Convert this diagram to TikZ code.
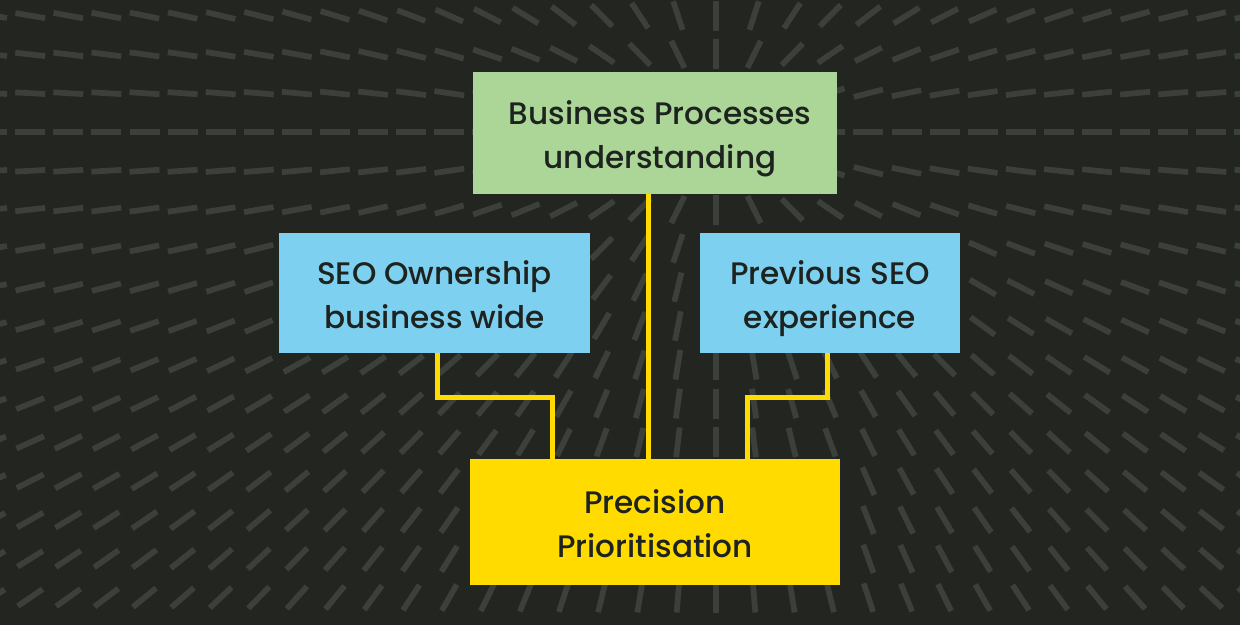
\documentclass[tikz,border=0pt]{standalone}
\usepackage{fontspec}
\setmainfont{Poppins}[UprightFont=* Medium]
\usepackage{tikz}
\usetikzlibrary{positioning}

\definecolor{bgdark}{HTML}{222520}
\definecolor{raygrey}{HTML}{3C403B}
\definecolor{boxgreen}{HTML}{ABD698}
\definecolor{boxblue}{HTML}{7DD0EF}
\definecolor{boxyellow}{HTML}{FFDB00}
\definecolor{inkdark}{HTML}{1E231F}

\newcommand\linestrut{\rule[-4.8pt]{0pt}{25pt}}

\begin{document}
\begin{tikzpicture}[
                    x=0.02cm, y=-0.02cm,
                    box/.style = {rectangle, inner sep=0pt, align=center, text=inkdark,
                                  font=\fontsize{17.7}{25}\selectfont},
                    ray/.style = {draw=raygrey, line width=0.115cm},
                    link/.style = {draw=boxyellow, line width=0.1cm, line join=miter}
                ]
                    \useasboundingbox (0,0) rectangle (1240,625);
                    \fill[bgdark] (0,0) rectangle (1240,625);

                    % background rays around the centre
                    \begin{scope}
                    \clip (0,0) rectangle (1240,625);
                    \foreach \i in {-19,...,14}{
                        \foreach \j in {-3,...,12}{
                            \pgfmathsetmacro\px{716+38.1*\i}
                            \pgfmathsetmacro\py{132+38.8*\j}
                            \pgfmathsetmacro\ang{atan2(38.8*\j,38.1*\i)}
                            \draw[ray] (\px,\py) ++(\ang:-15) -- ++(\ang:30);
                        }
                    }
                    \end{scope}

                    \node[box, fill=boxgreen, minimum width=7.28cm, minimum height=2.44cm] (process) at (655,133) {\hspace*{0.2cm}Business Processes\linestrut\\\hspace*{0.2cm}understanding\linestrut};
                    \node[box, fill=boxblue, minimum width=6.22cm, minimum height=2.4cm] (ownership) at (434.5,293) {SEO Ownership\linestrut\\business wide\linestrut};
                    \node[box, fill=boxblue, minimum width=5.2cm, minimum height=2.4cm] (experience) at (830,293) {Previous SEO\linestrut\\experience\linestrut};
                    \node[box, fill=boxyellow, minimum width=7.4cm, minimum height=2.52cm] (precision) at (655,522) {Precision\linestrut\\Prioritisation\linestrut};

                    \coordinate (stem) at (648,0);
                    \coordinate (kneeA) at (437,397);
                    \coordinate (kneeB) at (552,397);
                    \coordinate (kneeC) at (827,397);
                    \coordinate (kneeD) at (747,397);

                    \draw[link] (process.south -| stem) -- (precision.north -| stem);
                    \draw[link] (ownership.south -| kneeA) -- (kneeA) -- (kneeB) -- (kneeB |- precision.north);
                    \draw[link] (experience.south -| kneeC) -- (kneeC) -- (kneeD) -- (kneeD |- precision.north);
                \end{tikzpicture}
\end{document}
